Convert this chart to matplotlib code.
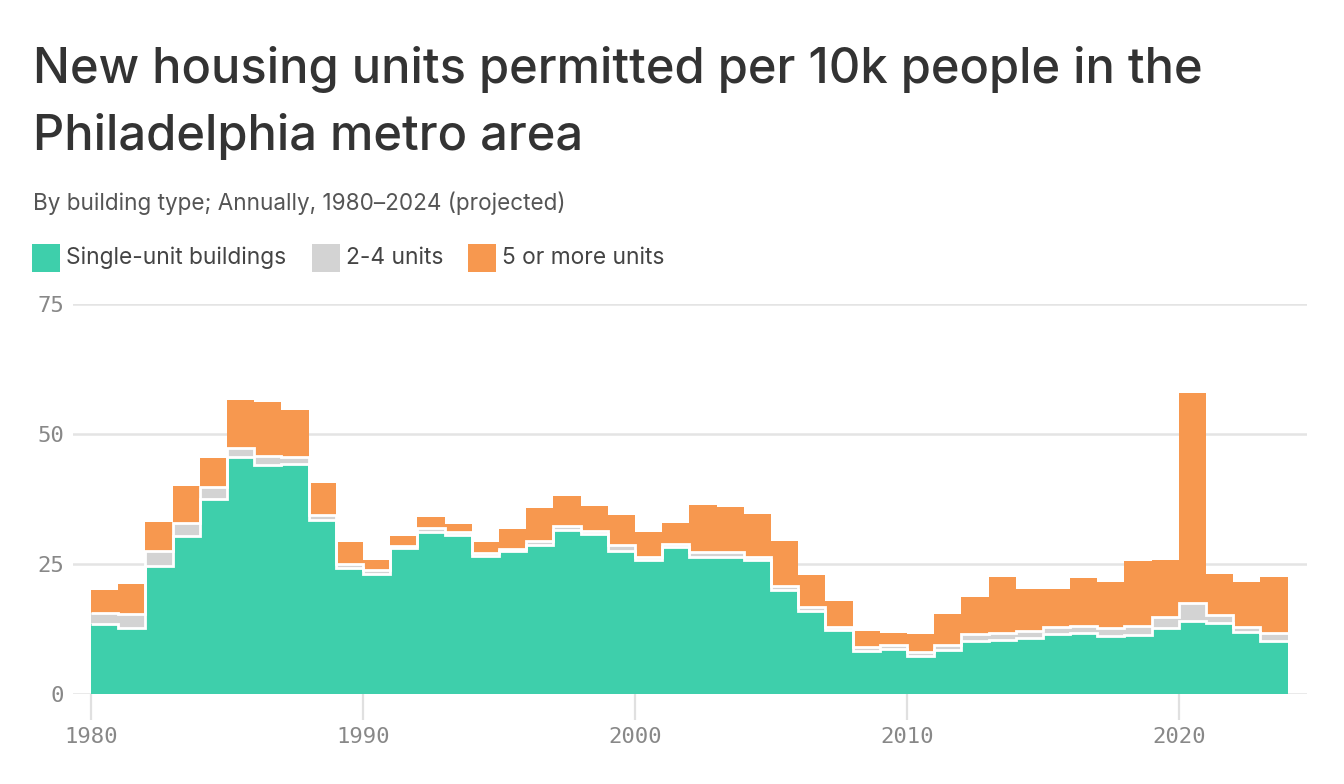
import numpy as np
import matplotlib.pyplot as plt
from matplotlib.patches import Rectangle

# permits per 10k people, one value per year (drawn over the year before the label)
years = list(range(1981, 2025))
single_unit = [13.5, 12.7, 24.6, 30.4, 37.5, 45.5, 44.1, 44.2, 33.5, 24.2,
               23.1, 28.0, 31.1, 30.6, 26.5, 27.5, 28.7, 31.6, 30.8, 27.5,
               25.8, 28.2, 26.4, 26.4, 25.7, 19.9, 15.9, 12.2, 8.3, 8.6,
               7.3, 8.4, 10.2, 10.4, 10.7, 11.5, 11.7, 11.2, 11.3, 12.6,
               14.0, 13.6, 11.8, 10.1]
two_four = [2.0, 2.7, 2.9, 2.5, 2.2, 1.7, 1.6, 1.4, 0.9, 0.8,
            0.7, 0.4, 0.8, 0.6, 0.6, 0.4, 0.7, 0.6, 0.6, 1.1,
            0.6, 0.7, 0.8, 0.9, 0.7, 0.8, 0.7, 0.6, 0.7, 0.8,
            0.8, 1.0, 1.2, 1.3, 1.4, 1.3, 1.4, 1.5, 1.8, 2.1,
            3.4, 1.5, 1.1, 1.5]
five_plus = [4.4, 5.7, 5.5, 7.0, 5.6, 9.3, 10.4, 9.0, 6.2, 4.1,
             2.0, 1.9, 2.2, 1.5, 2.0, 3.8, 6.3, 5.8, 4.7, 5.7,
             4.8, 4.0, 9.2, 8.7, 8.2, 8.6, 6.2, 5.0, 3.0, 2.3,
             3.4, 5.9, 7.2, 10.7, 8.1, 7.4, 9.1, 8.8, 12.4, 11.1,
             40.5, 7.9, 8.6, 10.8]
series_names = ['Single-unit buildings', '2-4 units', '5 or more units']
colors = ['#3ecfab', '#d3d3d3', '#f7984f']

W, H = 1344, 784
fig = plt.figure(figsize=(W / 100, H / 100), dpi=100)

def fx(px):
    return px / W

def fy(py):
    return 1 - py / H

# titles
title_font = 'Inter'
fig.text(fx(33), fy(83), 'New housing units permitted per 10k people in the',
         fontsize=35.2, family=title_font, weight='medium', color='#333333',
         va='baseline')
fig.text(fx(33), fy(150.5), 'Philadelphia metro area',
         fontsize=35.2, family=title_font, weight='medium', color='#333333',
         va='baseline')
fig.text(fx(33), fy(210), 'By building type; Annually, 1980\u20132024 (projected)',
         fontsize=16.2, family=title_font, color='#555555', va='baseline')

# legend
leg_x = [32, 312, 468]
for x0, name, c in zip(leg_x, series_names, colors):
    fig.patches.append(Rectangle((fx(x0), fy(272)), 28 / W, 28 / H,
                                 transform=fig.transFigure, color=c, lw=0))
    fig.text(fx(x0 + 34), fy(264), name, fontsize=16.4, family=title_font,
             color='#444444', va='baseline')

# chart
ax = fig.add_axes([fx(73), 90.3 / H, 1234 / W, 389.7 / H])
edges = np.array([years[0] - 1] + years)

single = np.array(single_unit)
mid = single + np.array(two_four)
top = mid + np.array(five_plus)

ax.stairs(single, edges, baseline=0, fill=True, color=colors[0], lw=0, zorder=2)
ax.stairs(mid, edges, baseline=single, fill=True, color=colors[1], lw=0, zorder=2)
ax.stairs(top, edges, baseline=mid, fill=True, color=colors[2], lw=0, zorder=2)
ax.stairs(single, edges, baseline=None, color='white', lw=2, zorder=3)
ax.stairs(mid, edges, baseline=None, color='white', lw=2, zorder=3)

ax.set_xlim(1979.34, 2024.71)
ax.set_ylim(0, 75)
for s in ax.spines.values():
    s.set_visible(False)

ax.set_yticks([0, 25, 50, 75])
ax.set_xticks([1980, 1990, 2000, 2010, 2020])
ax.yaxis.grid(True, color='#e4e4e4', lw=1.8, zorder=0)
ax.set_axisbelow(True)
ax.tick_params(axis='y', length=0, pad=6.5, labelsize=16, labelcolor='#888888')
ax.tick_params(axis='x', length=19, width=1.6, color='#e0e0e0', pad=5,
               labelsize=16, labelcolor='#888888')
for lab in ax.get_xticklabels() + ax.get_yticklabels():
    lab.set_family('DejaVu Sans Mono')

fig.savefig('out.png', dpi=100)
